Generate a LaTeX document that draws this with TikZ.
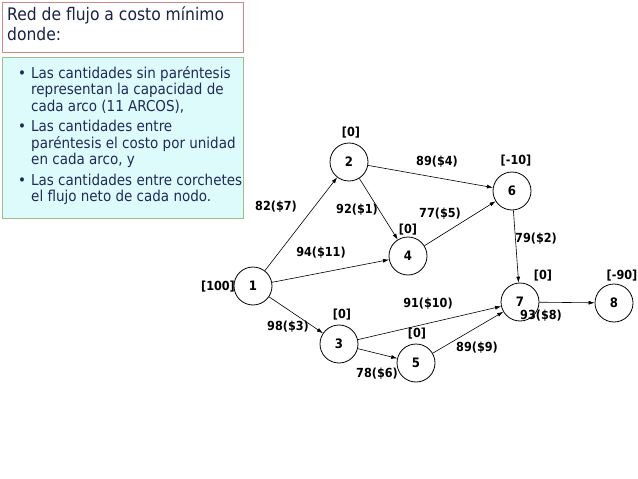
\documentclass[tikz,border=0pt]{standalone}
\usepackage{fontspec}
\setmainfont{DejaVu Sans Condensed}
\newfontfamily\gf{DejaVu Sans Condensed}
\usetikzlibrary{arrows.meta}
\definecolor{txt}{HTML}{1F2A5A}
\definecolor{pinkb}{HTML}{D08A8A}
\definecolor{greenb}{HTML}{9CC08A}
\definecolor{cyanf}{HTML}{DDFBFB}
\begin{document}
\begin{tikzpicture}[x=1pt,y=-1pt,
  nd/.style={circle,draw,thick,minimum size=38pt,inner sep=0pt,font=\gf\bfseries\fontsize{13}{15}\selectfont},
  lb/.style={font=\gf\bfseries\fontsize{12.5}{14}\selectfont,inner sep=1pt},
  ar/.style={-{Latex[length=6pt,width=4pt]},semithick}]
\useasboundingbox (0,0) rectangle (638,479);
\node[draw=pinkb,line width=1.2pt,fill=white,minimum width=241pt,minimum height=50pt,anchor=north west,inner sep=0pt] (t) at (2,2) {};
\node[anchor=north west,align=left,text=txt!80!black,font=\fontsize{17.3}{20}\selectfont,inner sep=0pt] (tt) at (7,6) {Red de flujo a costo mínimo\\donde:};
\node[draw=greenb,line width=1.2pt,fill=cyanf,minimum width=241pt,minimum height=161pt,anchor=north west,inner sep=0pt] (b) at (2,57) {};
\node[anchor=north west,align=left,text=txt,font=\fontsize{15}{16.5}\selectfont,inner sep=0pt] (bt) at (6,66) {%
\begin{minipage}{236pt}\raggedright
\begin{itemize}\setlength{\leftmargini}{20pt}\setlength{\leftmargin}{20pt}\setlength{\itemsep}{0pt}\setlength{\parsep}{0pt}\setlength{\topsep}{0pt}
\item Las cantidades sin paréntesis\\ representan la capacidad de\\ cada arco (11 ARCOS),
\item Las cantidades entre\\ paréntesis el costo por unidad\\ en cada arco, y
\item Las cantidades entre corchetes\\ el flujo neto de cada nodo.
\end{itemize}\end{minipage}};
\node[nd] (n1) at (253,286) {1};
\node[nd] (n2) at (349,162) {2};
\node[nd] (n3) at (339,344) {3};
\node[nd] (n4) at (408,256) {4};
\node[nd] (n5) at (416,363) {5};
\node[nd] (n6) at (512,191) {6};
\node[nd] (n7) at (520,302) {7};
\node[nd] (n8) at (614,303) {8};
\draw[ar] (n1) -- (n2);
\draw[ar] (n1) -- (n4);
\draw[ar] (n1) -- (n3);
\draw[ar] (n2) -- (n6);
\draw[ar] (n2) -- (n4);
\draw[ar] (n4) -- (n6);
\draw[ar] (n6) -- (n7);
\draw[ar] (n3) -- (n7);
\draw[ar] (n3) -- (n5);
\draw[ar] (n5) -- (n7);
\draw[ar] (n7) -- (n8);
\node[lb] (l1) at (351,133) {[0]};
\node[lb] (l2) at (437,162) {89(\$4)};
\node[lb] (l3) at (516,161) {[-10]};
\node[lb] (l4) at (276,207) {82(\$7)};
\node[lb] (l5) at (357,210) {92(\$1)};
\node[lb] (l6) at (440,214) {77(\$5)};
\node[lb] (l7) at (408,230) {[0]};
\node[lb] (l8) at (536,239) {79(\$2)};
\node[lb] (l9) at (321,253) {94(\$11)};
\node[lb] (l10) at (543,276) {[0]};
\node[lb] (l11) at (622,276) {[-90]};
\node[lb] (l12) at (218,287) {[100]};
\node[lb] (l13) at (428,304) {91(\$10)};
\node[lb] (l14) at (342,315) {[0]};
\node[lb] (l15) at (288,327) {98(\$3)};
\node[lb] (l16) at (541,316) {93(\$8)};
\node[lb] (l17) at (417,334) {[0]};
\node[lb] (l18) at (477,348) {89(\$9)};
\node[lb] (l19) at (377,374) {78(\$6)};
\end{tikzpicture}
\end{document}
